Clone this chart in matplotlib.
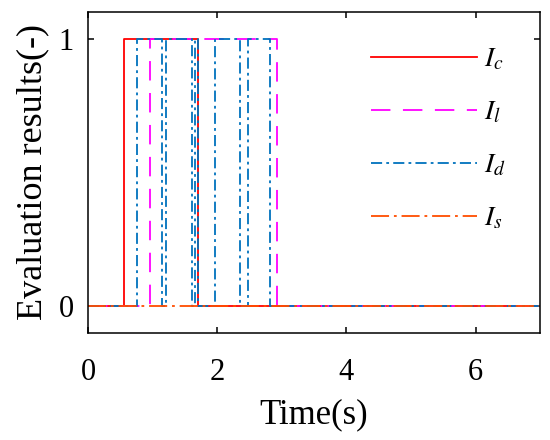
import matplotlib
matplotlib.use("Agg")
import matplotlib.pyplot as plt

plt.rcParams["font.family"] = ["Liberation Serif", "DejaVu Serif"]
plt.rcParams["mathtext.fontset"] = "stix"
plt.rcParams["lines.scale_dashes"] = False

# step signals: switching times and the level held after each time
ic_t = [0.0, 0.55, 1.70, 7.0]
ic_v = [0, 1, 0, 0]

il_t = [0.0, 0.96, 2.92, 7.0]
il_v = [0, 1, 0, 0]

id_t = [0.0, 0.76, 1.15, 1.21, 1.61, 1.66, 1.70, 1.97, 2.36, 2.47, 2.82, 7.0]
id_v = [0, 1, 0, 1, 0, 1, 0, 1, 0, 1, 0, 0]

is_t = [0.0, 7.0]
is_v = [0, 0]

x_ticks = [0, 2, 4, 6]
y_ticks = [0, 1]

fig = plt.figure(figsize=(5.5, 4.4), dpi=100)
ax = fig.add_axes([0.16, 0.243, 0.822, 0.73])

ax.plot(ic_t, ic_v, drawstyle="steps-post", color="#FF0000", lw=1.3,
        label=r"$I_c$")
ax.plot(il_t, il_v, drawstyle="steps-post", color="#FF00FF", lw=1.3,
        dashes=(14, 9), label=r"$I_l$")
ax.plot(id_t, id_v, drawstyle="steps-post", color="#0072BD", lw=1.3,
        dashes=(8, 3, 2, 3), label=r"$I_d$")
ax.plot(is_t, is_v, drawstyle="steps-post", color="#FF4D00", lw=1.3,
        dashes=(13, 3.5, 2, 3.5), label=r"$I_s$")

ax.set_xlim(0, 7)
ax.set_ylim(-0.1, 1.1)
ax.set_xticks(x_ticks)
ax.set_yticks(y_ticks)
ax.tick_params(direction="in", length=4, width=1.1, top=True, right=True,
               labelsize=22)
ax.tick_params(axis="x", pad=18)
ax.tick_params(axis="y", pad=10)
for sp in ax.spines.values():
    sp.set_linewidth(1.1)

ax.set_xlabel("Time(s)", fontsize=25, labelpad=8)
ax.set_ylabel("Evaluation results(-)", fontsize=26, labelpad=7)

ax.legend(loc="upper left", bbox_to_anchor=(0.626, 0.89), frameon=False,
          fontsize=20, handlelength=3.8, handletextpad=0.25, labelspacing=0.98,
          borderpad=0, borderaxespad=0)

fig.savefig("out.png", dpi=100)
